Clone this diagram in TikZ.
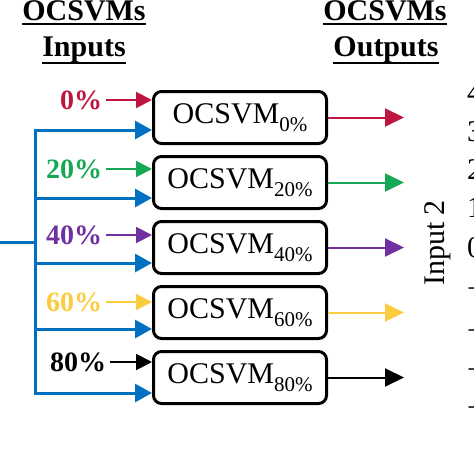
\documentclass[tikz,border=0pt]{standalone}
\usepackage{fontspec}
\setmainfont{Liberation Serif}
\usetikzlibrary{arrows.meta}
\definecolor{ocred}{RGB}{190,22,62}
\definecolor{ocgreen}{RGB}{22,168,84}
\definecolor{ocpurple}{RGB}{112,48,160}
\definecolor{ocyellow}{RGB}{252,204,64}
\definecolor{ocblue}{RGB}{0,112,192}
\tikzset{
  svmbox/.style={draw,line width=3pt,rounded corners=8pt,minimum width=173pt,
    minimum height=52pt,inner sep=0pt,font=\fontsize{30}{36}\selectfont},
  pct/.style={font=\fontsize{28}{32}\selectfont\bfseries,anchor=east,inner sep=0pt,outer sep=4pt},
  hdr/.style={font=\fontsize{30}{36}\selectfont\bfseries,anchor=base,inner sep=0pt},
  uline/.style={line width=2pt},
  inarrow/.style={line width=2pt,-{Triangle[length=16pt,width=16pt]}},
  busarrow/.style={ocblue,line width=3pt,-{Triangle[length=17pt,width=18pt]}},
  busline/.style={ocblue,line width=3pt,line cap=rect},
  outarrow/.style={line width=2pt,-{Triangle[length=19pt,width=18pt]}},
  ticklbl/.style={font=\fontsize{30}{36}\selectfont,anchor=west,inner sep=0pt}
}
\newcommand{\svm}[1]{OCSVM\raisebox{-8pt}{\fontsize{21}{21}\selectfont #1\%}}
\begin{document}
\begin{tikzpicture}[x=1pt,y=1pt]
\useasboundingbox (0,0) rectangle (474,-474);
\clip (0,0) rectangle (474,-474);
\node[hdr] (hin1) at (84,-20) {OCSVMs};
\node[hdr] (hin2) at (84,-56) {Inputs};
\node[hdr] (hout1) at (385,-20) {OCSVMs};
\node[hdr] (hout2) at (386,-56) {Outputs};
\draw[uline] ([yshift=-4pt]hin1.base west) -- ([yshift=-4pt]hin1.base east);
\draw[uline] ([yshift=-7pt]hin2.base west) -- ([yshift=-7pt]hin2.base east);
\draw[uline] ([yshift=-4pt]hout1.base west) -- ([yshift=-4pt]hout1.base east);
\draw[uline] ([yshift=-7pt]hout2.base west) -- ([yshift=-7pt]hout2.base east);
\node[svmbox] (svm0) at (240,-117.5) {\svm{0}};
\node[svmbox] (svm20) at (240,-182.5) {\svm{20}};
\node[svmbox] (svm40) at (240,-247.5) {\svm{40}};
\node[svmbox] (svm60) at (240,-312.5) {\svm{60}};
\node[svmbox] (svm80) at (240,-377.5) {\svm{80}};
\node[pct,ocred] (p0) at (106,-100) {0\%};
\node[pct,ocgreen] (p20) at (106,-169) {20\%};
\node[pct,ocpurple] (p40) at (106,-235) {40\%};
\node[pct,ocyellow] (p60) at (106,-302) {60\%};
\node[pct,black] (p80) at (110,-362) {80\%};
\draw[inarrow,ocred] (p0.east) -- (p0.east -| svm0.west);
\draw[inarrow,ocgreen] (p20.east) -- (p20.east -| svm20.west);
\draw[inarrow,ocpurple] (p40.east) -- (p40.east -| svm40.west);
\draw[inarrow,ocyellow] (p60.east) -- (p60.east -| svm60.west);
\draw[inarrow,black] (p80.east) -- (p80.east -| svm80.west);
\coordinate (src) at (0,-242);
\coordinate (tap0) at (35,-130);
\coordinate (tap20) at (35,-198);
\coordinate (tap40) at (35,-263);
\coordinate (tap60) at (35,-329);
\coordinate (tap80) at (35,-393);
\draw[busline] (tap0) -- (tap80);
\draw[busline] (src) -- (src -| tap0);
\draw[busarrow] (tap0) -- (tap0 -| svm0.west);
\draw[busarrow] (tap20) -- (tap20 -| svm20.west);
\draw[busarrow] (tap40) -- (tap40 -| svm40.west);
\draw[busarrow] (tap60) -- (tap60 -| svm60.west);
\draw[busarrow] (tap80) -- (tap80 -| svm80.west);
\coordinate (out0) at (404,-117.5);
\coordinate (out20) at (404,-182.5);
\coordinate (out40) at (404,-247.5);
\coordinate (out60) at (404,-313);
\coordinate (out80) at (404,-378);
\draw[outarrow,ocred] (svm0.east) -- (out0);
\draw[outarrow,ocgreen] (svm20.east) -- (out20);
\draw[outarrow,ocpurple] (svm40.east) -- (out40);
\draw[outarrow,ocyellow] (svm60.east -| svm60.east) -- (out60 |- svm60.east);
\draw[outarrow,black] (svm80.east) -- (out80 |- svm80.east);
\node[font=\fontsize{30}{36}\selectfont,rotate=90] (ylab) at (438,-243) {Input 2};
\node[ticklbl] (t4) at (467,-93) {4};
\node[ticklbl] (t3) at (467,-132) {3};
\node[ticklbl] (t2) at (467,-170) {2};
\node[ticklbl] (t1) at (467,-208) {1};
\node[ticklbl] (t0) at (467,-248) {0};
\node[ticklbl] (tm1) at (467,-289) {−1};
\node[ticklbl] (tm2) at (467,-331) {−2};
\node[ticklbl] (tm3) at (467,-370) {−3};
\node[ticklbl] (tm4) at (467,-408) {−4};
\end{tikzpicture}
\end{document}
